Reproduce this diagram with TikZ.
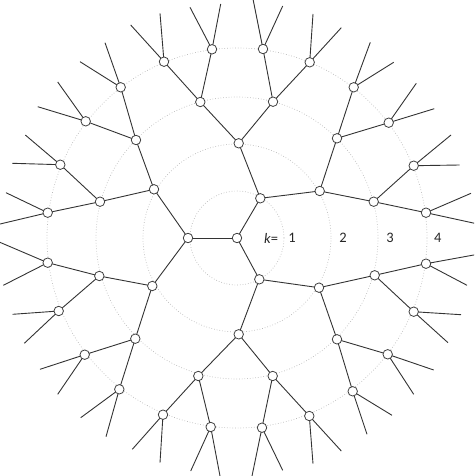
\documentclass[tikz,border=0pt]{standalone}
\usepackage{fontspec}
\setmainfont{Carlito}
\begin{document}
\begin{tikzpicture}[x=1pt,y=-1pt,
  v/.style={circle,draw=black!75,fill=white,line width=0.8pt,inner sep=0pt,minimum size=9.5pt},
  edge/.style={draw=black!80,line width=0.9pt},
  ring/.style={draw=black!27,dotted,line width=0.7pt},
  lbl/.style={font=\fontsize{14.5}{16}\selectfont,text=black!85,inner sep=0pt}]
\useasboundingbox (0,0) rectangle (474,476);
\clip (0,0) rectangle (474,476);
% rings
\coordinate (ctr) at (237,238);
\foreach \r in {47,94,141,190} \draw[ring] (ctr) circle[radius=\r];
% nodes
\foreach \n/\x/\y in {R/237/238, L/188/238, U/260.3/198.3, D/259.3/279.3,
  L1/154/189.3, L2/152.3/286,
  L11/136/140, L12/100/201.7,
  L111/120.7/87.3, L112/85.7/121.3, L121/60.3/164.7, L122/47.7/212.7,
  L21/99.3/276, L22/135.3/338.7,
  L211/47.7/262.7, L212/58.7/311, L221/84.7/354.7, L222/119.3/389.3,
  U1/238.7/143.3, U2/319.7/191,
  U11/200.3/102, U12/273/101.7,
  U111/164/61.7, U112/212/49.3, U121/263/49, U122/309.7/62.3,
  U21/337/138.3, U22/373.7/201.7,
  U211/353.7/87.3, U212/388.7/122.7, U221/413.7/165.7, U222/426/212.7,
  D1/319/287.7, D2/238.7/334.3,
  D11/374.7/275.3, D12/337/339.3,
  D111/426/263.7, D112/413.7/311.7, D121/387.7/354.3, D122/352.7/391.3,
  D21/272.7/376, D22/198.3/376,
  D211/309.3/416, D212/262/427.7, D221/210.7/427, D222/163/414.7}
  \coordinate (p\n) at (\x,\y);
% leaf end points
\foreach \n/\ax/\ay/\bx/\by in {
  L111/105/42.7/80/61.7, L112/57.7/82/37.7/106.7, L121/25.3/135/12.3/163.3, L122/6/192.7/-2/224.5,
  L211/-2/241.5/3.3/285.3, L212/12.7/314.3/24.3/343.3, L221/40/369.3/57.7/394.3, L222/80.7/417.7/106/436.7,
  U111/160/13.3/130.7/25, U112/220.7/4/190/7.3, U121/253/-1/282.7/6, U122/313/14/341.3/27.7,
  U211/370.3/42.3/393.7/62.3, U212/416.3/83.3/434.3/108.7, U221/451/135/459.7/165, U222/471/193.3/476/223.6,
  D111/476/254.6/467/285.3, D112/461/314.7/448/342.7, D121/433.7/370/413.7/394.3, D122/392/415.3/367/434.3,
  D211/341.3/451/313/463.7, D212/282.7/470.3/252/476, D221/190.7/471/220/476, D222/132.3/449.3/160/462.7}
{
  \coordinate (\n a) at (\ax,\ay);
  \coordinate (\n b) at (\bx,\by);
}
% tree edges
\foreach \a/\b in {R/L, R/U, R/D,
  L/L1, L/L2, L1/L11, L1/L12, L11/L111, L11/L112, L12/L121, L12/L122,
  L2/L21, L2/L22, L21/L211, L21/L212, L22/L221, L22/L222,
  U/U1, U/U2, U1/U11, U1/U12, U11/U111, U11/U112, U12/U121, U12/U122,
  U2/U21, U2/U22, U21/U211, U21/U212, U22/U221, U22/U222,
  D/D1, D/D2, D1/D11, D1/D12, D11/D111, D11/D112, D12/D121, D12/D122,
  D2/D21, D2/D22, D21/D211, D21/D212, D22/D221, D22/D222}
  \draw[edge] (p\a) -- (p\b);
\foreach \n in {L111,L112,L121,L122,L211,L212,L221,L222,
  U111,U112,U121,U122,U211,U212,U221,U222,
  D111,D112,D121,D122,D211,D212,D221,D222}
{
  \draw[edge] (p\n) -- (\n a);
  \draw[edge] (p\n) -- (\n b);
}
% vertices
\foreach \n in {R,L,U,D,L1,L2,L11,L12,L111,L112,L121,L122,L21,L22,L211,L212,L221,L222,
  U1,U2,U11,U12,U111,U112,U121,U122,U21,U22,U211,U212,U221,U222,
  D1,D2,D11,D12,D111,D112,D121,D122,D21,D22,D211,D212,D221,D222}
  \node[v] (\n) at (p\n) {};
% labels
\node[lbl] (keq) at (271,238) {\textit{k}=};
\node[lbl] (k1) at (292,238) {1};
\node[lbl] (k2) at (343,238) {2};
\node[lbl] (k3) at (390,238) {3};
\node[lbl] (k4) at (437.7,238) {4};
\end{tikzpicture}
\end{document}
